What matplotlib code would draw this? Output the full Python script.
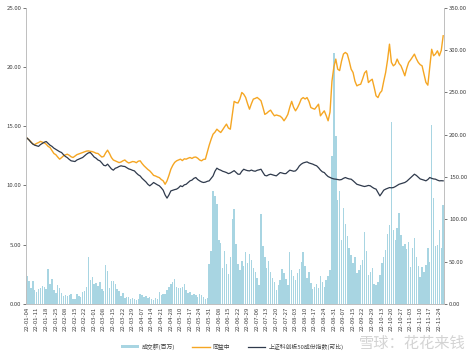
import matplotlib
matplotlib.use("Agg")
import matplotlib.pyplot as plt
import numpy as np

plt.rcParams['font.family'] = ['Noto Sans CJK SC', 'DejaVu Sans']

# tick labels, one every 5 trading days
date_labels = ["22-01-04", "22-01-11", "22-01-18", "22-01-25", "22-02-08", "22-02-15",
               "22-02-22", "22-03-01", "22-03-08", "22-03-15", "22-03-22", "22-03-29",
               "22-04-07", "22-04-14", "22-04-21", "22-04-28", "22-05-10", "22-05-17",
               "22-05-24", "22-05-31", "22-06-08", "22-06-15", "22-06-22", "22-06-29",
               "22-07-06", "22-07-13", "22-07-20", "22-07-27", "22-08-03", "22-08-10",
               "22-08-17", "22-08-24", "22-08-31", "22-09-07", "22-09-15", "22-09-22",
               "22-09-29", "22-10-13", "22-10-20", "22-10-27", "22-11-03", "22-11-10",
               "22-11-17", "22-11-24"]

# 同益中 close
tyz = [14.00, 13.85, 13.70, 13.50, 13.45, 13.55, 13.62, 13.72, 13.65, 13.60,
       13.48, 13.30, 13.20, 12.95, 12.70, 12.60, 12.40, 12.22, 12.35, 12.50,
       12.58, 12.64, 12.55, 12.42, 12.36, 12.48, 12.60, 12.66, 12.72, 12.78,
       12.85, 12.90, 12.92, 12.88, 12.86, 12.80, 12.72, 12.70, 12.55, 12.40,
       12.45, 12.75, 12.98, 12.70, 12.36, 12.15, 12.08, 12.00, 11.93, 11.98,
       12.08, 12.15, 12.00, 11.90, 11.95, 12.02, 12.00, 11.92, 12.05, 12.08,
       11.85, 11.66, 11.50, 11.35, 11.23, 11.05, 10.85, 10.80, 10.72, 10.66,
       10.50, 10.39, 10.10, 10.39, 10.85, 11.37, 11.70, 11.95, 12.08, 12.15,
       12.22, 12.10, 12.25, 12.22, 12.30, 12.36, 12.28, 12.38, 12.40, 12.30,
       12.15, 12.08, 12.20, 12.22, 12.80, 13.40, 13.90, 14.33, 14.50, 14.75,
       14.60, 14.47, 14.70, 14.95, 15.18, 14.85, 14.75, 15.90, 17.10, 17.00,
       16.96, 17.30, 17.85, 17.70, 17.43, 16.90, 16.44, 16.90, 17.29, 17.35,
       17.43, 17.30, 17.15, 16.60, 16.00, 16.10, 16.25, 16.36, 16.10, 15.88,
       15.95, 15.90, 15.85, 15.70, 15.46, 15.70, 16.00, 16.60, 17.10, 16.60,
       16.30, 16.56, 16.90, 17.30, 17.42, 17.30, 17.42, 17.10, 16.58, 16.50,
       16.44, 16.65, 16.86, 15.88, 16.10, 16.30, 15.90, 15.46, 16.20, 18.80,
       20.00, 20.67, 19.82, 19.70, 20.50, 21.10, 21.23, 21.10, 20.50, 19.82,
       19.54, 18.80, 18.41, 18.50, 18.55, 19.00, 19.50, 19.68, 18.69, 18.85,
       18.97, 18.30, 17.57, 17.42, 17.80, 17.99, 18.80, 19.54, 20.60, 21.93,
       20.40, 20.10, 20.24, 20.67, 20.30, 20.10, 19.70, 19.26, 19.90, 20.39,
       20.60, 20.85, 21.09, 20.70, 20.39, 20.20, 20.10, 19.40, 18.70, 18.47,
       20.00, 21.50, 20.95, 21.10, 21.37, 20.95, 21.40, 22.64]

# 上证科创板50成份指数, rebased to the stock
kc50 = [14.00, 13.85, 13.65, 13.50, 13.40, 13.35, 13.30, 13.45, 13.55, 13.65,
        13.71, 13.55, 13.40, 13.30, 13.15, 13.05, 12.95, 12.85, 12.78, 12.60,
        12.45, 12.35, 12.20, 12.08, 12.05, 12.02, 12.15, 12.22, 12.30, 12.36,
        12.50, 12.64, 12.75, 12.78, 12.60, 12.40, 12.30, 12.15, 12.08, 11.90,
        11.70, 11.66, 11.80, 11.60, 11.40, 11.29, 11.45, 11.51, 11.60, 11.66,
        11.62, 11.60, 11.50, 11.40, 11.35, 11.28, 11.23, 11.05, 10.90, 10.80,
        10.60, 10.45, 10.30, 10.10, 9.97, 10.10, 10.25, 10.15, 10.05, 9.97,
        9.80, 9.60, 9.20, 8.93, 9.20, 9.54, 9.60, 9.65, 9.69, 9.80,
        9.97, 9.90, 10.05, 10.10, 10.25, 10.39, 10.45, 10.60, 10.67, 10.50,
        10.39, 10.30, 10.25, 10.28, 10.35, 10.39, 10.60, 10.80, 11.20, 11.46,
        11.35, 11.29, 11.20, 11.15, 11.09, 11.00, 11.05, 11.15, 11.25, 11.10,
        10.95, 10.95, 11.20, 11.37, 11.30, 11.25, 11.23, 11.30, 11.23, 11.20,
        11.28, 11.32, 11.37, 11.10, 10.85, 10.81, 10.90, 10.95, 10.90, 10.85,
        10.81, 10.95, 11.09, 11.05, 11.00, 11.00, 11.15, 11.29, 11.25, 11.20,
        11.23, 11.40, 11.65, 11.80, 11.90, 11.95, 11.99, 11.90, 11.85, 11.80,
        11.72, 11.66, 11.50, 11.30, 11.15, 11.09, 10.90, 10.75, 10.67, 10.60,
        10.55, 10.53, 10.50, 10.47, 10.50, 10.60, 10.67, 10.60, 10.55, 10.53,
        10.40, 10.25, 10.10, 10.05, 10.00, 9.95, 9.91, 9.95, 10.00, 9.97,
        9.85, 9.75, 9.69, 9.40, 9.12, 9.35, 9.60, 9.69, 9.75, 9.82,
        9.80, 9.82, 9.90, 10.00, 10.10, 10.15, 10.20, 10.25, 10.35, 10.50,
        10.65, 10.80, 10.95, 10.85, 10.70, 10.55, 10.50, 10.45, 10.39, 10.50,
        10.67, 10.60, 10.55, 10.53, 10.45, 10.39, 10.40, 10.39]

# 成交额 (百万)
turnover = [33, 27, 19, 27, 16, 14, 18, 19, 21, 20,
            17, 41, 23, 30, 16, 13, 22, 19, 13, 9,
            10, 9, 11, 12, 6, 6, 12, 9, 8, 14,
            15, 20, 56, 28, 32, 24, 25, 21, 26, 17,
            15, 46, 39, 19, 27, 27, 23, 17, 15, 9,
            13, 7, 8, 8, 6, 7, 6, 5, 6, 12,
            10, 8, 9, 7, 8, 6, 5, 7, 6, 14,
            10, 12, 12, 16, 20, 24, 26, 30, 20, 19,
            19, 20, 23, 16, 13, 14, 10, 12, 10, 8,
            12, 10, 8, 6, 7, 47, 63, 134, 128, 118,
            75, 72, 43, 63, 47, 35, 55, 100, 112, 71,
            47, 40, 51, 45, 61, 48, 59, 52, 43, 38,
            31, 22, 106, 69, 55, 42, 51, 38, 31, 26,
            16, 22, 28, 41, 36, 30, 22, 61, 40, 33,
            28, 36, 41, 50, 61, 45, 31, 38, 25, 18,
            20, 24, 19, 33, 26, 20, 28, 33, 40, 175,
            296, 198, 123, 133, 76, 113, 95, 80, 66, 58,
            48, 56, 36, 40, 46, 52, 85, 62, 34, 38,
            42, 24, 22, 26, 34, 48, 56, 64, 83, 93,
            215, 87, 76, 90, 107, 81, 68, 71, 65, 73,
            44, 66, 78, 56, 45, 32, 44, 38, 46, 66,
            50, 212, 125, 68, 70, 87, 66, 117]

x = np.arange(len(tyz))

fig = plt.figure(figsize=(4.74, 3.55), dpi=100)
ax = fig.add_axes([0.055, 0.144, 0.882, 0.834])
ax2 = ax.twinx()

bars = ax2.bar(x, turnover, width=0.75, color='#A8D5E2', label='成交额(百万)')
l1, = ax.plot(x, tyz, color='#F5A623', lw=1.0, label='同益中')
l2, = ax.plot(x, kc50, color='#2F3A4C', lw=0.9, label='上证科创板50成份指数(可比)')

ax.set_zorder(ax2.get_zorder() + 1)
ax.patch.set_visible(False)

ax.set_xlim(-0.5, len(tyz) - 0.5)
ax.set_ylim(0, 25)
ax2.set_ylim(0, 350)
ax.set_yticks(np.arange(0, 26, 5))
ax.set_yticklabels([f"{v:.2f}" for v in np.arange(0, 26, 5)])
ax2.set_yticks(np.arange(0, 351, 50))
ax2.set_yticklabels([f"{v:.2f}" for v in np.arange(0, 351, 50)])
ax.set_xticks(np.arange(0, 5 * len(date_labels), 5))
ax.set_xticklabels(date_labels, rotation=90)

for a in (ax, ax2):
    a.tick_params(labelsize=4.3, colors='#404040', length=2, width=0.5, pad=1.5)
    for s in a.spines.values():
        s.set_color('#BFBFBF')
        s.set_linewidth(0.6)
    a.spines['top'].set_visible(False)
ax.tick_params(axis='x', length=0, pad=2)

fig.legend(handles=[bars, l1, l2], loc='lower center', bbox_to_anchor=(0.49, 0.0),
           ncol=3, frameon=False, fontsize=4.2, handlelength=3.0, columnspacing=3.0,
           handleheight=0.6, handletextpad=0.5, labelcolor='#404040')

fig.text(0.87, 0.032, '雪球：花花来钱', fontsize=11, color='#C8C8C8', ha='center',
         va='center', alpha=0.8)

fig.savefig('out.png', dpi=100)
